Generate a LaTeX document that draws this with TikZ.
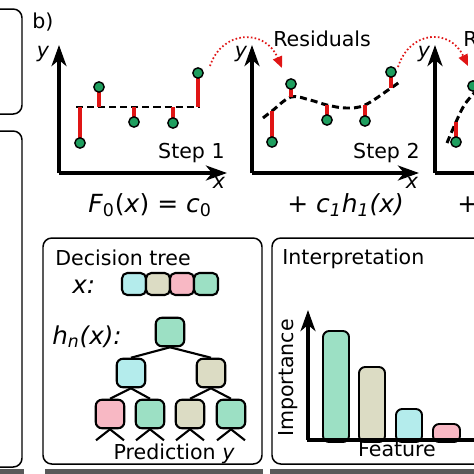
\documentclass[tikz,border=0pt]{standalone}
\usepackage{fontspec}
\setmainfont{DejaVu Sans}
\usetikzlibrary{arrows.meta}
\definecolor{dotgreen}{HTML}{1E9E5E}
\definecolor{resred}{HTML}{E01515}
\definecolor{fcyan}{HTML}{B4ECEC}
\definecolor{fbeige}{HTML}{DCDCC4}
\definecolor{fpink}{HTML}{F8B8C4}
\definecolor{fgreen}{HTML}{9CE0C4}
\begin{document}
\begin{tikzpicture}[x=0.02cm,y=-0.02cm,
  axisline/.style={line width=2pt,-{Stealth[length=12pt,width=8.5pt,inset=3.5pt]}},
  plainaxis/.style={line width=2pt},
  fitline/.style={line width=1.7pt,dash pattern=on 4pt off 2.3pt},
  resline/.style={resred,line width=2.1pt},
  dot/.style={circle,draw=black,fill=dotgreen,inner sep=0pt,minimum size=5.9pt,line width=0.8pt},
  arcline/.style={resred,line width=1pt,dash pattern=on 0.9pt off 1.3pt,-{Triangle[length=6.5pt,width=5.5pt]}},
  lbl/.style={inner sep=0pt,font=\fontsize{11.7pt}{14pt}\selectfont},
  ilbl/.style={inner sep=0pt,font=\fontsize{11.7pt}{14pt}\selectfont\itshape},
  formula/.style={inner sep=0pt,font=\fontsize{14.2pt}{16pt}\selectfont},
  bigformula/.style={inner sep=0pt,font=\fontsize{14pt}{16pt}\selectfont},
  panelbox/.style={draw=black,line width=0.85pt,rounded corners=5pt},
  tnode/.style={draw=black,line width=1.2pt,rounded corners=3.5pt,minimum width=16.2pt,minimum height=16.2pt,inner sep=0pt},
  fnode/.style={draw=black,line width=1.2pt,rounded corners=3pt,minimum width=13.6pt,minimum height=12.5pt,inner sep=0pt},
  tedge/.style={line width=1.2pt},
  barbox/.style={draw=black,line width=1.1pt,rounded corners=3.5pt},
  shadow/.style={fill=black!65}]
\useasboundingbox (0,0) rectangle (474,474);
\clip (0,0) rectangle (474,474);
\fill[white] (0,0) rectangle (474,474);

% left boxes (cropped)
\draw[panelbox] (-30,9) rectangle (22,114);
\draw[panelbox] (-30,131) rectangle (22,467);
\fill[shadow] (0,469) rectangle (24,474);

\node[lbl,anchor=base west] (blabel) at (32,28) {b)};

% ---------- panel 1 ----------
\coordinate (o1) at (59,173);
\draw[axisline] (o1) -- (59,45);
\draw[axisline] (o1) -- (227,173);
\node[ilbl,anchor=base] (y1) at (43,57) {y};
\node[ilbl,anchor=base] (x1) at (219,188) {x};
\draw[fitline] (76,107) coordinate (d1s) -- (200,107) coordinate (d1e);
\coordinate (p11) at (80,143);  \coordinate (q11) at (80,107);
\coordinate (p12) at (99,87);   \coordinate (q12) at (99,107);
\coordinate (p13) at (134,122); \coordinate (q13) at (134,107);
\coordinate (p14) at (173,123); \coordinate (q14) at (173,107);
\coordinate (p15) at (198,73);  \coordinate (q15) at (198,107);
\foreach \i in {1,...,5} {\draw[resline] (p1\i) -- (q1\i);}
\foreach \i in {1,...,5} {\node[dot] (n1\i) at (p1\i) {};}
\node[lbl,anchor=base east] (step1) at (225,158) {Step 1};
\node[formula,anchor=base west] (f0) at (88,212) {\textit{F}\textsubscript{0}(\textit{x}) = \textit{c}\textsubscript{0}};

% arc 1
\coordinate (a1s) at (210,66);
\coordinate (a1e) at (282,68);
\draw[arcline] (a1s) .. controls (222,30) and (265,28) .. (a1e);
\node[lbl,anchor=base west] (res1) at (273,46) {Residuals};

% ---------- panel 2 ----------
\coordinate (o2) at (252,173);
\draw[axisline] (o2) -- (252,45);
\draw[axisline] (o2) -- (419,173);
\node[ilbl,anchor=base] (y2) at (241,57) {y};
\node[ilbl,anchor=base] (x2) at (412,188) {x};
\draw[fitline] plot[smooth,tension=0.6] coordinates {(263,118) (272,111) (291,97) (310,100) (327,105) (346,108) (365,105) (391,88) (401,81)};
\coordinate (p21) at (272,142); \coordinate (q21) at (272,111);
\coordinate (p22) at (291,84);  \coordinate (q22) at (291,97);
\coordinate (p23) at (327,120); \coordinate (q23) at (327,105);
\coordinate (p24) at (365,121); \coordinate (q24) at (365,105);
\coordinate (p25) at (391,72);  \coordinate (q25) at (391,88);
\foreach \i in {1,...,5} {\draw[resline] (p2\i) -- (q2\i);}
\foreach \i in {1,...,5} {\node[dot] (n2\i) at (p2\i) {};}
\node[lbl,anchor=base east] (step2) at (420,158) {Step 2};
\node[formula,anchor=base west] (f1) at (287,212) {+ \textit{c\textsubscript{1}h\textsubscript{1}(x)}};

% arc 2
\coordinate (a2s) at (398,67);
\coordinate (a2e) at (468,66);
\draw[arcline] (a2s) .. controls (410,30) and (450,28) .. (a2e);
\node[lbl,anchor=base west] (res2) at (463,46) {Residuals};

% ---------- panel 3 (cropped) ----------
\coordinate (o3) at (435,173);
\draw[axisline] (o3) -- (435,45);
\draw[plainaxis] (o3) -- (480,173);
\node[ilbl,anchor=base] (y3) at (424,57) {y};
\draw[fitline] plot[smooth,tension=0.6] coordinates {(447,143) (456,122) (465,104) (478,89)};
\coordinate (p31) at (456,142); \coordinate (q31) at (456,122);
\draw[resline] (p31) -- (q31);
\node[dot] (n31) at (p31) {};
\node[dot] (n32) at (473,86) {};
\node[formula,anchor=base west] (f2) at (457,212) {+ \textit{c\textsubscript{2}h\textsubscript{2}(x)}};

% ---------- decision tree box ----------
\draw[panelbox] (43,238) rectangle (262,464);
\fill[shadow] (45,469) rectangle (263,474);
\node[lbl,anchor=base west] (dt) at (55,265) {Decision tree};
\node[bigformula,anchor=base west] (xlab) at (72,293) {\textit{x:}};
\node[fnode,fill=fcyan]  (fa) at (134,284) {};
\node[fnode,fill=fbeige] (fb) at (158,284) {};
\node[fnode,fill=fpink]  (fc) at (182,284) {};
\node[fnode,fill=fgreen] (fd) at (206,284) {};
\node[bigformula,anchor=base west] (hlab) at (52,344) {\textit{h\textsubscript{n}(x):}};

\node[tnode,fill=fgreen] (r) at (170,332) {};
\node[tnode,fill=fcyan]  (l) at (131,373) {};
\node[tnode,fill=fbeige] (rr) at (211,373) {};
\node[tnode,fill=fpink]  (lf1) at (110,414) {};
\node[tnode,fill=fgreen] (lf2) at (150,414) {};
\node[tnode,fill=fbeige] (lf3) at (190,414) {};
\node[tnode,fill=fgreen] (lf4) at (231,414) {};
\draw[tedge] (r.south) -- (l.north);
\draw[tedge] (r.south) -- (rr.north);
\draw[tedge] (l.south) -- (lf1.north);
\draw[tedge] (l.south) -- (lf2.north);
\draw[tedge] (rr.south) -- (lf3.north);
\draw[tedge] (rr.south) -- (lf4.north);
\foreach \n in {lf1,lf2,lf3,lf4} {
  \draw[tedge] (\n.south) -- ++(-14,11);
  \draw[tedge] (\n.south) -- ++(14,11);
}
\node[lbl,anchor=base east] (pred) at (235,459) {Prediction \textit{y}};

% ---------- interpretation box ----------
\draw[panelbox] (272,238) rectangle (500,464);
\fill[shadow] (270,469) rectangle (474,474);
\node[lbl,anchor=base west] (interp) at (282,264) {Interpretation};
\draw[barbox,fill=fgreen] (323,442) rectangle (349,331);
\draw[barbox,fill=fbeige] (359,442) rectangle (385,367);
\draw[barbox,fill=fcyan]  (396,442) rectangle (422,409);
\draw[barbox,fill=fpink]  (433,442) rectangle (460,424);
\coordinate (o4) at (308,440);
\draw[axisline] (o4) -- (308,310);
\draw[plainaxis] (307,440) -- (480,440);
\node[lbl,rotate=90,anchor=base] (imp) at (293,378) {Importance};
\node[lbl,anchor=base] (feat) at (397,456) {Feature};
\end{tikzpicture}
\end{document}
